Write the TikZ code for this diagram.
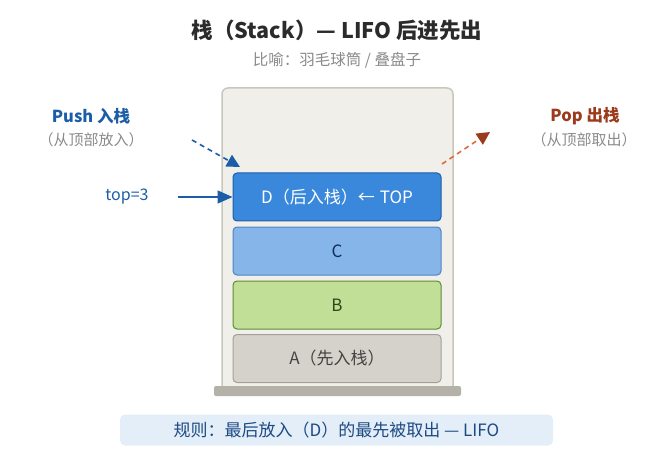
\documentclass[tikz,border=0pt]{standalone}
\usepackage{fontspec}
\setmainfont{Noto Sans CJK SC}
\usetikzlibrary{arrows.meta}
\definecolor{titlec}{HTML}{2B2B2B}
\definecolor{subc}{HTML}{8A8A8A}
\definecolor{contfill}{HTML}{F1EFE9}
\definecolor{contdraw}{HTML}{C9C6BE}
\definecolor{basec}{HTML}{B4B1A8}
\definecolor{dfill}{HTML}{3A88DC}
\definecolor{ddraw}{HTML}{1F5FA8}
\definecolor{cfill}{HTML}{86B6E9}
\definecolor{cdraw}{HTML}{4E84C2}
\definecolor{ctext}{HTML}{0F2F5C}
\definecolor{bfill}{HTML}{C2DF98}
\definecolor{bdraw}{HTML}{5E8B36}
\definecolor{btext}{HTML}{2B4A12}
\definecolor{afill}{HTML}{D5D2CB}
\definecolor{adraw}{HTML}{A3A09A}
\definecolor{atext}{HTML}{444444}
\definecolor{pushc}{HTML}{1B5EA7}
\definecolor{popc}{HTML}{9B3A1C}
\definecolor{popline}{HTML}{E06A3C}
\definecolor{rulefill}{HTML}{E4EEF9}
\definecolor{rulec}{HTML}{1D4A82}
\tikzset{
  stackbox/.style={rounded corners=4pt, line width=1pt, minimum width=208pt, minimum height=48pt, inner sep=0pt, font=\fontsize{17}{20}\selectfont},
  lbl/.style={inner sep=0pt, anchor=center},
}
\begin{document}
\begin{tikzpicture}[x=1pt,y=-1pt]
\useasboundingbox (0,0) rectangle (645,465);
% title
\node[lbl, text=titlec, font=\fontsize{21.5}{26}\selectfont\bfseries] (title) at (337,30) {栈（Stack）— LIFO 后进先出};
\node[lbl, text=subc, font=\fontsize{15.5}{18}\selectfont] (sub) at (337,60) {比喻：羽毛球筒 / 叠盘子};
% container
\draw[fill=contfill, draw=contdraw, line width=1.5pt, rounded corners=6pt] (222,88) rectangle (453,392);
\fill[basec, rounded corners=2pt] (214,386) rectangle (461,396);
% boxes
\node[stackbox, fill=dfill, draw=ddraw, text=white] (D) at (337,197) {D（后入栈）←\hspace{5pt}TOP};
\node[stackbox, fill=cfill, draw=cdraw, text=ctext] (C) at (337,251) {C};
\node[stackbox, fill=bfill, draw=bdraw, text=btext] (B) at (337,305) {B};
\node[stackbox, fill=afill, draw=adraw, text=atext] (A) at (337,358.5) {A（先入栈）};
% push
\node[lbl, text=pushc, font=\fontsize{16.5}{20}\selectfont\bfseries] (push) at (91,116) {Push 入栈};
\node[lbl, text=subc, font=\fontsize{15}{18}\selectfont] (pushsub) at (91,140) {（从顶部放入）};
\coordinate (ps) at (192,140);
\coordinate (pe) at (240,167);
\draw[pushc, line width=1.6pt, dash pattern=on 5pt off 4pt, -{Triangle[length=13pt,width=13pt]}] (ps) -- (pe);
% top=3
\node[lbl, text=pushc, font=\fontsize{16}{19}\selectfont] (top) at (127,197) {top=3};
\coordinate (ts) at (178,197);
\draw[pushc, line width=1.6pt, -{Triangle[length=15pt,width=13pt]}] (ts) -- (D.west);
% pop
\node[lbl, text=popc, font=\fontsize{16.5}{20}\selectfont\bfseries] (pop) at (585,116) {Pop 出栈};
\node[lbl, text=subc, font=\fontsize{15}{18}\selectfont] (popsub) at (584,140) {（从顶部取出）};
\coordinate (os) at (442,164);
\coordinate (oe) at (490,132);
\draw[popline, line width=1.6pt, dash pattern=on 5pt off 4pt, -{Triangle[length=13pt,width=13pt,color=popc,fill=popc]}] (os) -- (oe);
% rule
\node[fill=rulefill, rounded corners=5pt, minimum width=433pt, minimum height=31pt, inner sep=0pt, text=rulec, font=\fontsize{17}{20}\selectfont] (rule) at (336.5,430) {规则：最后放入（D）的最先被取出 — LIFO};
\end{tikzpicture}
\end{document}
